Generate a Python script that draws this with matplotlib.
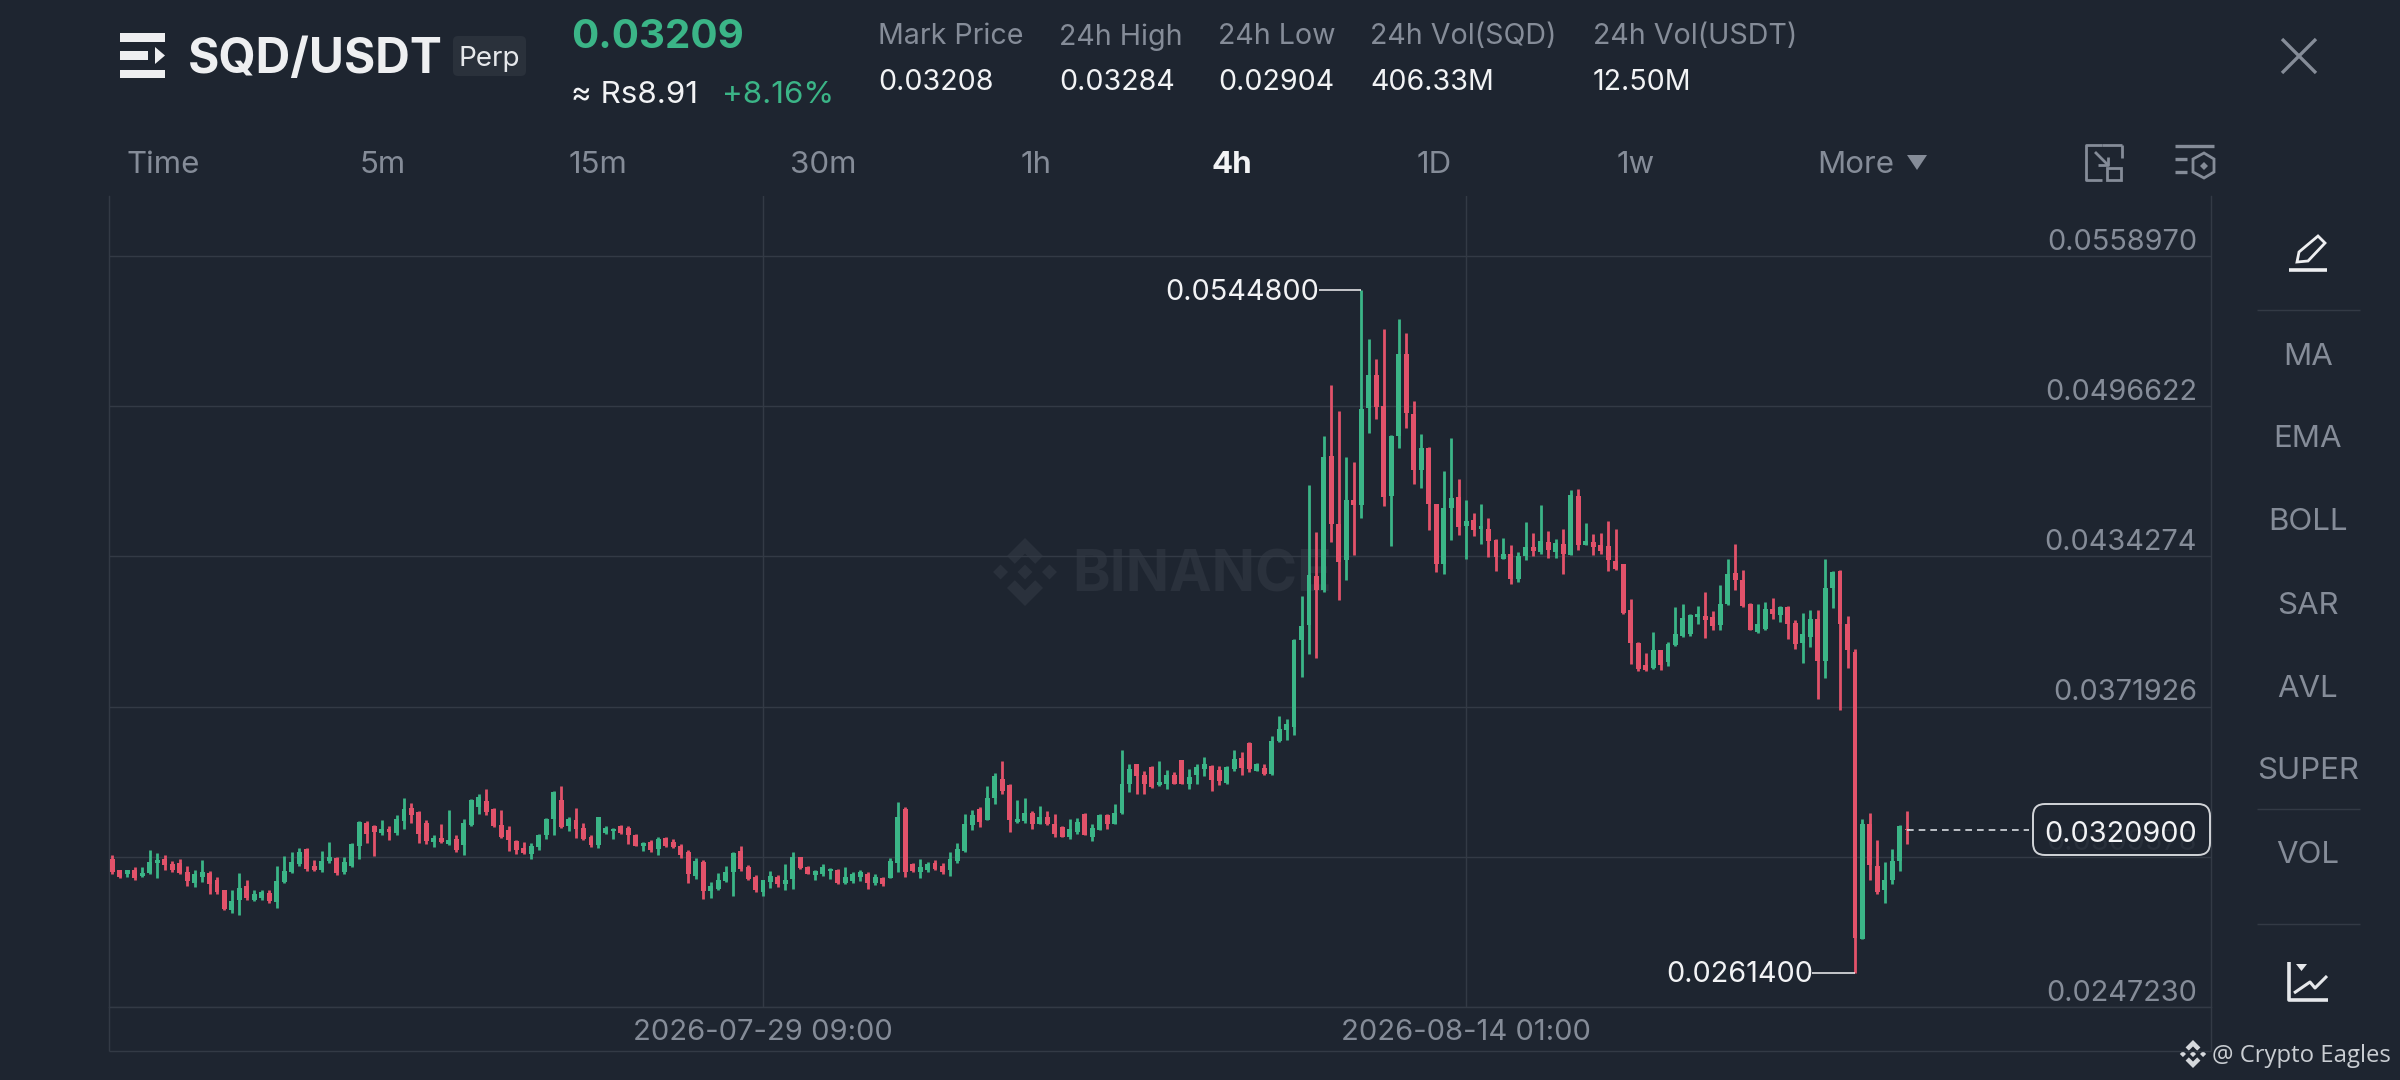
import numpy as np
import matplotlib
matplotlib.use("Agg")
import matplotlib.pyplot as plt
from matplotlib.patches import Polygon, FancyBboxPatch, Rectangle
from matplotlib.transforms import ScaledTranslation

# ---- data (prices, in units of 0.00001 USDT) ----
high_e5 = [
 3104,3042,3043,3052,3053,3122,3111,3102,3078,3086, 3059,3042,3084,3035,3012,2960,2956,3027,2998,2958,
 2958,2956,3057,3099,3117,3133,3131,3084,3121,3158, 3095,3095,3155,3243,3243,3226,3247,3222,3268,3338,
 3319,3286,3250,3187,3230,3288,3187,3254,3337,3358, 3378,3299,3288,3222,3165,3157,3154,3190,3258,3369,
 3391,3263,3298,3237,3185,3263,3222,3215,3226,3223, 3191,3157,3164,3180,3178,3171,3150,3122,3092,3081,
 2991,3028,3056,3115,3139,3063,3020,3000,3035,3021, 3064,3115,3097,3059,3039,3064,3050,3046,3053,3032,
 3042,3031,3023,3012,3092,3322,3301,3072,3086,3074, 3084,3071,3114,3151,3275,3291,3302,3388,3442,3493,
 3399,3330,3341,3286,3306,3286,3272,3222,3254,3258, 3279,3230,3272,3272,3316,3540,3479,3482,3454,3471,
 3493,3457,3447,3499,3461,3479,3510,3475,3471,3471, 3540,3531,3571,3486,3482,3596,3679,3666,3998,4177,
 4638,4444,4843,5056,4945,4755,4735,5448,5247,5164, 5288,4845,5330,5270,4988,4849,4797,4562,4696,4834,
 4665,4578,4523,4559,4502,4416,4421,4389,4361,4486, 4440,4555,4447,4416,4455,4617,4624,4483,4437,4441,
 4490,4455,4313,4167,3987,3943,4029,3955,3986,4133, 4146,4105,4137,4195,4116,4223,4330,4396,4285,4151,
 4144,4155,4171,4137,4135,4077,4108,4122,4122,4333, 4281,4285,4094,3960,3254,3279,3164,3074,3128,3226,
 3284]
low_e5 = [
 3025,3006,3012,2999,3013,3025,3009,3042,3032,3024, 2974,2970,2991,2941,2942,2875,2862,2855,2917,2911,
 2917,2905,2884,2989,3028,3059,3036,3036,3032,3072, 3020,3025,3052,3086,3153,3099,3186,3165,3187,3211,
 3236,3153,3150,3135,3155,3143,3115,3103,3225,3272, 3269,3219,3172,3120,3106,3107,3088,3126,3169,3185,
 3214,3203,3175,3167,3136,3132,3189,3168,3191,3150, 3139,3121,3117,3102,3136,3133,3090,2988,3005,2919,
 2923,2959,2992,2933,3036,3000,2951,2931,2966,2969, 2960,2963,3045,3023,2999,3018,3005,2981,2982,2988,
 2995,2963,2980,2976,3006,3031,3013,3031,3006,3032, 3039,3025,3017,3072,3117,3205,3219,3247,3313,3358,
 3197,3237,3236,3212,3230,3229,3179,3178,3169,3191, 3185,3160,3205,3212,3230,3275,3365,3358,3358,3382,
 3389,3376,3396,3396,3378,3399,3430,3371,3395,3399, 3454,3434,3448,3450,3436,3435,3572,3582,3600,3842,
 3939,3922,4195,4403,4163,4243,4347,4502,4856,4915, 4551,4385,4793,4877,4642,4627,4454,4278,4268,4409,
 4430,4333,4427,4393,4340,4282,4331,4230,4236,4329, 4344,4354,4337,4337,4271,4347,4371,4389,4347,4354,
 4281,4288,4105,3895,3867,3865,3877,3872,3888,3971, 4008,4014,4063,4004,4036,4036,4141,4202,4133,4036,
 4026,4036,4081,4070,4000,3957,3900,3967,3752,3838, 4128,3704,3881,2614,2753,2998,2942,2904,2984,3036,
 3147]
open_e5 = [
 3088,3039,3025,3043,3016,3027,3070,3086,3066,3070, 3032,2987,3012,3030,3000,2958,2873,2915,2973,2917,
 2924,2945,2908,2992,3034,3064,3128,3059,3039,3078, 3092,3031,3059,3142,3236,3222,3194,3212,3194,3244,
 3299,3281,3237,3157,3175,3147,3168,3143,3227,3302, 3326,3295,3226,3205,3162,3133,3108,3136,3185,3254,
 3333,3222,3247,3215,3178,3143,3194,3203,3222,3215, 3185,3139,3157,3129,3175,3157,3139,3114,3018,3075,
 2953,2963,2995,3031,3118,3053,3014,2949,2991,3014, 2984,3003,3095,3054,3021,3025,3035,3042,2987,2994,
 3014,3025,2988,3009,3009,3071,3295,3064,3032,3042, 3072,3057,3039,3078,3120,3226,3295,3250,3341,3420,
 3392,3240,3244,3277,3233,3263,3233,3219,3178,3198, 3275,3178,3208,3268,3233,3277,3399,3479,3434,3468,
 3392,3399,3434,3496,3399,3434,3461,3472,3457,3402, 3461,3507,3568,3454,3465,3438,3575,3623,3634,3994,
 4056,4260,4202,4758,4479,4326,4578,4555,4960,5095, 4966,4592,4843,5182,4935,4700,4794,4559,4313,4545,
 4589,4468,4492,4458,4458,4409,4333,4351,4250,4343, 4382,4361,4403,4361,4396,4350,4592,4391,4403,4389,
 4385,4324,4310,4119,3985,3890,3881,3953,3904,3973, 4011,4022,4091,4094,4091,4056,4144,4274,4246,4146,
 4029,4043,4126,4098,4133,4068,3983,4008,4084,3907, 4213,4282,4061,3946,2755,3230,3056,2956,2998,3078,
 3211]
close_e5 = [
 3032,3014,3039,3007,3030,3074,3084,3060,3042,3030, 2995,3023,3031,2984,2948,2881,2913,2967,2926,2942,
 2948,2912,2994,3035,3074,3114,3046,3042,3078,3095, 3028,3074,3147,3239,3190,3198,3212,3197,3251,3295,
 3269,3191,3161,3172,3158,3167,3122,3236,3330,3344, 3281,3222,3180,3164,3125,3111,3139,3185,3254,3365,
 3219,3252,3212,3171,3143,3261,3216,3212,3194,3185, 3140,3153,3122,3169,3142,3136,3102,3025,3078,2953,
 2974,2998,3032,3113,3046,3005,2956,2998,3018,2981, 3000,3095,3050,3025,3035,3053,3046,2987,3012,3023,
 3032,2987,3014,2984,3078,3262,3032,3036,3053,3067, 3046,3032,3085,3129,3233,3268,3240,3341,3430,3371,
 3247,3254,3277,3233,3263,3233,3191,3180,3212,3240, 3187,3216,3268,3230,3279,3396,3461,3430,3396,3385,
 3406,3434,3399,3399,3427,3468,3479,3413,3410,3468, 3503,3465,3461,3479,3438,3575,3627,3645,3994,4052,
 4264,4202,4755,4476,4319,4576,4555,4956,5095,4963, 4589,4843,5182,4938,4700,4794,4562,4313,4545,4587,
 4465,4490,4454,4468,4407,4340,4351,4250,4343,4382, 4365,4405,4368,4398,4351,4596,4389,4407,4382,4365,
 4326,4292,4108,3983,3877,3872,3955,3890,3978,4022, 4088,4098,4105,4080,4052,4144,4268,4246,4135,4039,
 4061,4126,4105,4133,4063,3980,4022,4084,3907,4213, 4278,4061,3953,2760,3233,3060,2949,2998,3078,3222,
 3209]
price_ticks = [0.0558970, 0.0496622, 0.0434274, 0.0371926, 0.0309578, 0.0247230]
price_labels = ["0.0558970", "0.0496622", "0.0434274", "0.0371926", "0.0309578", "0.0247230"]
date_ticks = [87, 181]
date_labels = ["2026-07-29 09:00", "2026-08-14 01:00"]
tabs = ["5m", "15m", "30m", "1h", "4h", "1D", "1w"]
indicators = ["MA", "EMA", "BOLL", "SAR", "AVL", "SUPER", "VOL"]
stat_names = ["Mark Price", "24h High", "24h Low", "24h Vol(SQD)", "24h Vol(USDT)"]
stat_values = ["0.03208", "0.03284", "0.02904", "406.33M", "12.50M"]

# ---- style ----
BG = "#1e2530"; GRID = "#333a45"; GREEN = "#3bb587"; RED = "#e2526a"
MUTED = "#858c98"; WHITE = "#f2f3f5"; FONT = "Inter"
W, H = 2400, 1080
plt.rcParams["font.family"] = [FONT, "DejaVu Sans"]

assert all(len(a) == 241 for a in (high_e5, low_e5, open_e5, close_e5))
high = np.array(high_e5) * 1e-5
low = np.array(low_e5) * 1e-5
opn = np.array(open_e5) * 1e-5
close = np.array(close_e5) * 1e-5
x = np.arange(len(high))
colors = [GREEN if c >= o else RED for o, c in zip(opn, close)]

fig = plt.figure(figsize=(W / 100, H / 100), dpi=100, facecolor=BG)

def px_axes(z):
    a = fig.add_axes([0, 0, 1, 1], zorder=z)
    a.set_xlim(0, W); a.set_ylim(H, 0); a.axis("off"); a.patch.set_alpha(0)
    return a

def logo(a, cx, cy, s, color, z=1):
    def P(pts):
        a.add_patch(Polygon([(cx + s * u, cy + s * v) for u, v in pts], closed=True,
                            fc=color, ec="none", zorder=z))
    for ox in (-0.72, 0, 0.72):
        P([(ox, -0.22), (ox + 0.22, 0), (ox, 0.22), (ox - 0.22, 0)])
    for sgn in (1, -1):
        P([(0, -sgn), (0.53, -0.47 * sgn), (0.30, -0.24 * sgn), (0, -0.54 * sgn),
           (-0.30, -0.24 * sgn), (-0.53, -0.47 * sgn)])

under = px_axes(0)
logo(under, 1025, 572, 34, "#2a313c")
under.text(1072, 576, "BINANCE", color="#2a313c", fontsize=41, fontweight="bold", va="center", ha="left")

# ---- chart ----
L, R, T, B = 109, 2211, 196, 1007
ax = fig.add_axes([L / W, 1 - B / H, (R - L) / W, (B - T) / H], zorder=1)
ax.patch.set_alpha(0)
ax.set_xlim(-0.44, 280.6)
ax.set_ylim(0.024723, 0.058388)
ax.yaxis.tick_right()
ax.set_yticks(price_ticks, price_labels)
ax.set_xticks(date_ticks, date_labels)
ax.grid(True, color=GRID, linewidth=1.0, zorder=0)
ax.set_axisbelow(True)
for k, s in ax.spines.items():
    s.set_color(GRID); s.set_linewidth(1.0); s.set_visible(k != "top")
ax.tick_params(axis="x", length=0, pad=9, labelsize=21, labelcolor=MUTED)
ax.tick_params(axis="y", length=0, pad=-10.0, labelsize=20.8, labelcolor=MUTED)
off = ScaledTranslation(0, 6.5 / 100, fig.dpi_scale_trans)
for t in ax.yaxis.get_major_ticks():
    t.label2.set_ha("right"); t.label2.set_va("baseline")
    t.label2.set_transform(t.label2.get_transform() + off)

ax.vlines(x, low, high, colors=colors, linewidth=2.0, zorder=3)
ax.bar(x, np.abs(close - opn), bottom=np.minimum(opn, close), width=0.66, color=colors, zorder=4)

# high / low callouts and last price line
hi_i = int(np.argmax(high)); lo_i = int(np.argmin(low)); last = close[-1]
for i, v in ((hi_i, high[hi_i]), (lo_i, low[lo_i])):
    ax.plot([i - 5.7, i], [v, v], color=WHITE, lw=1.1, zorder=5, solid_capstyle="butt")
    ax.annotate(f"{v:.7f}", (i - 5.7, v), xytext=(0.5, -1.5), textcoords="offset points",
                ha="right", va="center", color=WHITE, fontsize=20.8, zorder=5)
ax.plot([x[-1], 256.2], [last, last], color="#d8dbe0", lw=1.2, dashes=(4, 3), zorder=5)

# ---- interface ----
ui = px_axes(2)
def line(xs, ys, c=MUTED, lw=2.0, **k):
    ui.plot(xs, ys, color=c, lw=lw, solid_capstyle=k.pop("cap", "butt"), **k)
def rect(x0, y0, x1, y1, c, **k):
    ui.add_patch(Rectangle((x0, y0), x1 - x0, y1 - y0, fc=c, ec="none", **k))

# outer frame of the date row
line([L, L], [B, 1051], GRID, 1.0); line([R, R], [B, 1051], GRID, 1.0); line([L, R], [1051, 1051], GRID, 1.0)

# current price box
ui.add_patch(FancyBboxPatch((2033, 804), 177, 51, boxstyle="round,pad=0,rounding_size=12",
                            fc=BG, ec="#e6e8eb", lw=1.4, alpha=0.9))
ui.text(2197, 834, f"{last + 1e-12:.7f}", ha="right", va="center", color=WHITE, fontsize=20.8)

# header
rect(120, 33, 165, 42, "#eeeff1"); rect(120, 70, 165, 78, "#eeeff1"); rect(120, 51, 148, 60, "#eeeff1")
ui.add_patch(Polygon([(155, 47), (165, 55.5), (155, 64)], fc="#eeeff1", ec="none"))
ui.text(188, 60, "SQD/USDT", color="#eeeff1", fontsize=34.5, fontweight="bold", va="center", ha="left")
ui.add_patch(FancyBboxPatch((453, 36), 73, 40, boxstyle="round,pad=0,rounding_size=5", fc="#2a313b", ec="none"))
ui.text(489.5, 59, "Perp", color="#e6e8eb", fontsize=20, va="center", ha="center")
ui.text(571, 37, "0.03209", color=GREEN, fontsize=29, fontweight="bold", va="center", ha="left")
ui.text(571, 95, "≈ Rs8.91", color=WHITE, fontsize=22.6, va="center", ha="left")
ui.text(722, 95, "+8.16%", color=GREEN, fontsize=22.6, va="center", ha="left")
for sx, n, v in zip([878, 1059, 1218, 1370, 1593], stat_names, stat_values):
    ui.text(sx, 37, n, color=MUTED, fontsize=20.6, va="center", ha="left")
    ui.text(sx, 83, v, color=WHITE, fontsize=20.6, va="center", ha="left")

# tabs
ui.text(127, 165, "Time", color=MUTED, fontsize=22.5, va="center", ha="left")
for tx, t in zip([383, 598, 823, 1036, 1232, 1434, 1636], tabs):
    on = t == "4h"
    ui.text(tx, 165, t, color=WHITE if on else MUTED, fontsize=22.5, va="center", ha="center",
            fontweight="bold" if on else "normal")
ui.text(1856, 165, "More", color=MUTED, fontsize=22.5, va="center", ha="center")
ui.add_patch(Polygon([(1907, 155), (1927, 155), (1917, 170)], fc=MUTED, ec="none"))

# small icons
line([2282, 2316], [39, 73], MUTED, 2.4); line([2282, 2316], [73, 39], MUTED, 2.4)
line([2102, 2086, 2086, 2102], [145, 145, 180, 180], MUTED, 2.0)
line([2122, 2122], [145, 158], MUTED, 2.0); line([2102, 2122], [145, 145], MUTED, 2.0)
ui.add_patch(Rectangle((2107, 168), 14, 12, fc="none", ec=MUTED, lw=2.0))
line([2095, 2108], [152, 165], MUTED, 2.0); line([2108, 2108, 2098], [157, 165, 165], MUTED, 2.0)
line([2175, 2214], [146, 146], MUTED, 2.4); line([2175, 2187], [159, 159], MUTED, 2.4); line([2175, 2187], [172, 172], MUTED, 2.4)
ui.add_patch(Polygon([(2204, 153), (2214, 159), (2214, 172), (2204, 178), (2193, 172), (2193, 159)], fc="none", ec=MUTED, lw=2.0))
ui.add_patch(Polygon([(2204, 162), (2208, 166), (2204, 170), (2200, 166)], fc=MUTED, ec="none"))

# right side menu
ui.add_patch(Polygon([(2297, 262), (2299, 252), (2318, 236), (2325, 243), (2308, 261)], fc="none", ec="#eeeff1", lw=2.0))
line([2289, 2327], [270, 270], "#eeeff1", 2.6)
for ty, t in zip([357, 439, 522, 606, 689, 771, 855], indicators):
    ui.text(2308, ty, t, color=MUTED, fontsize=22.5, va="center", ha="center")
for dy in (310, 809, 924):
    line([2257, 2360], [dy, dy], GRID, 1.0)
line([2289, 2289, 2328], [962, 1000, 1000], "#e6e8eb", 2.6)
line([2294, 2310, 2315, 2327], [993, 982, 988, 976], "#e6e8eb", 2.2)
ui.add_patch(Polygon([(2296, 964), (2307, 964), (2301.5, 971)], fc="#e6e8eb", ec="none"))

# corner mark
logo(ui, 2193, 1054, 14, "#d5d8dc")
ui.text(2212, 1056, "@ Crypto Eagles", color="#c9cdd2", fontsize=17.2, family=["Open Sans", "DejaVu Sans"], va="center", ha="left")

fig.savefig("out.png", dpi=100, facecolor=BG)
